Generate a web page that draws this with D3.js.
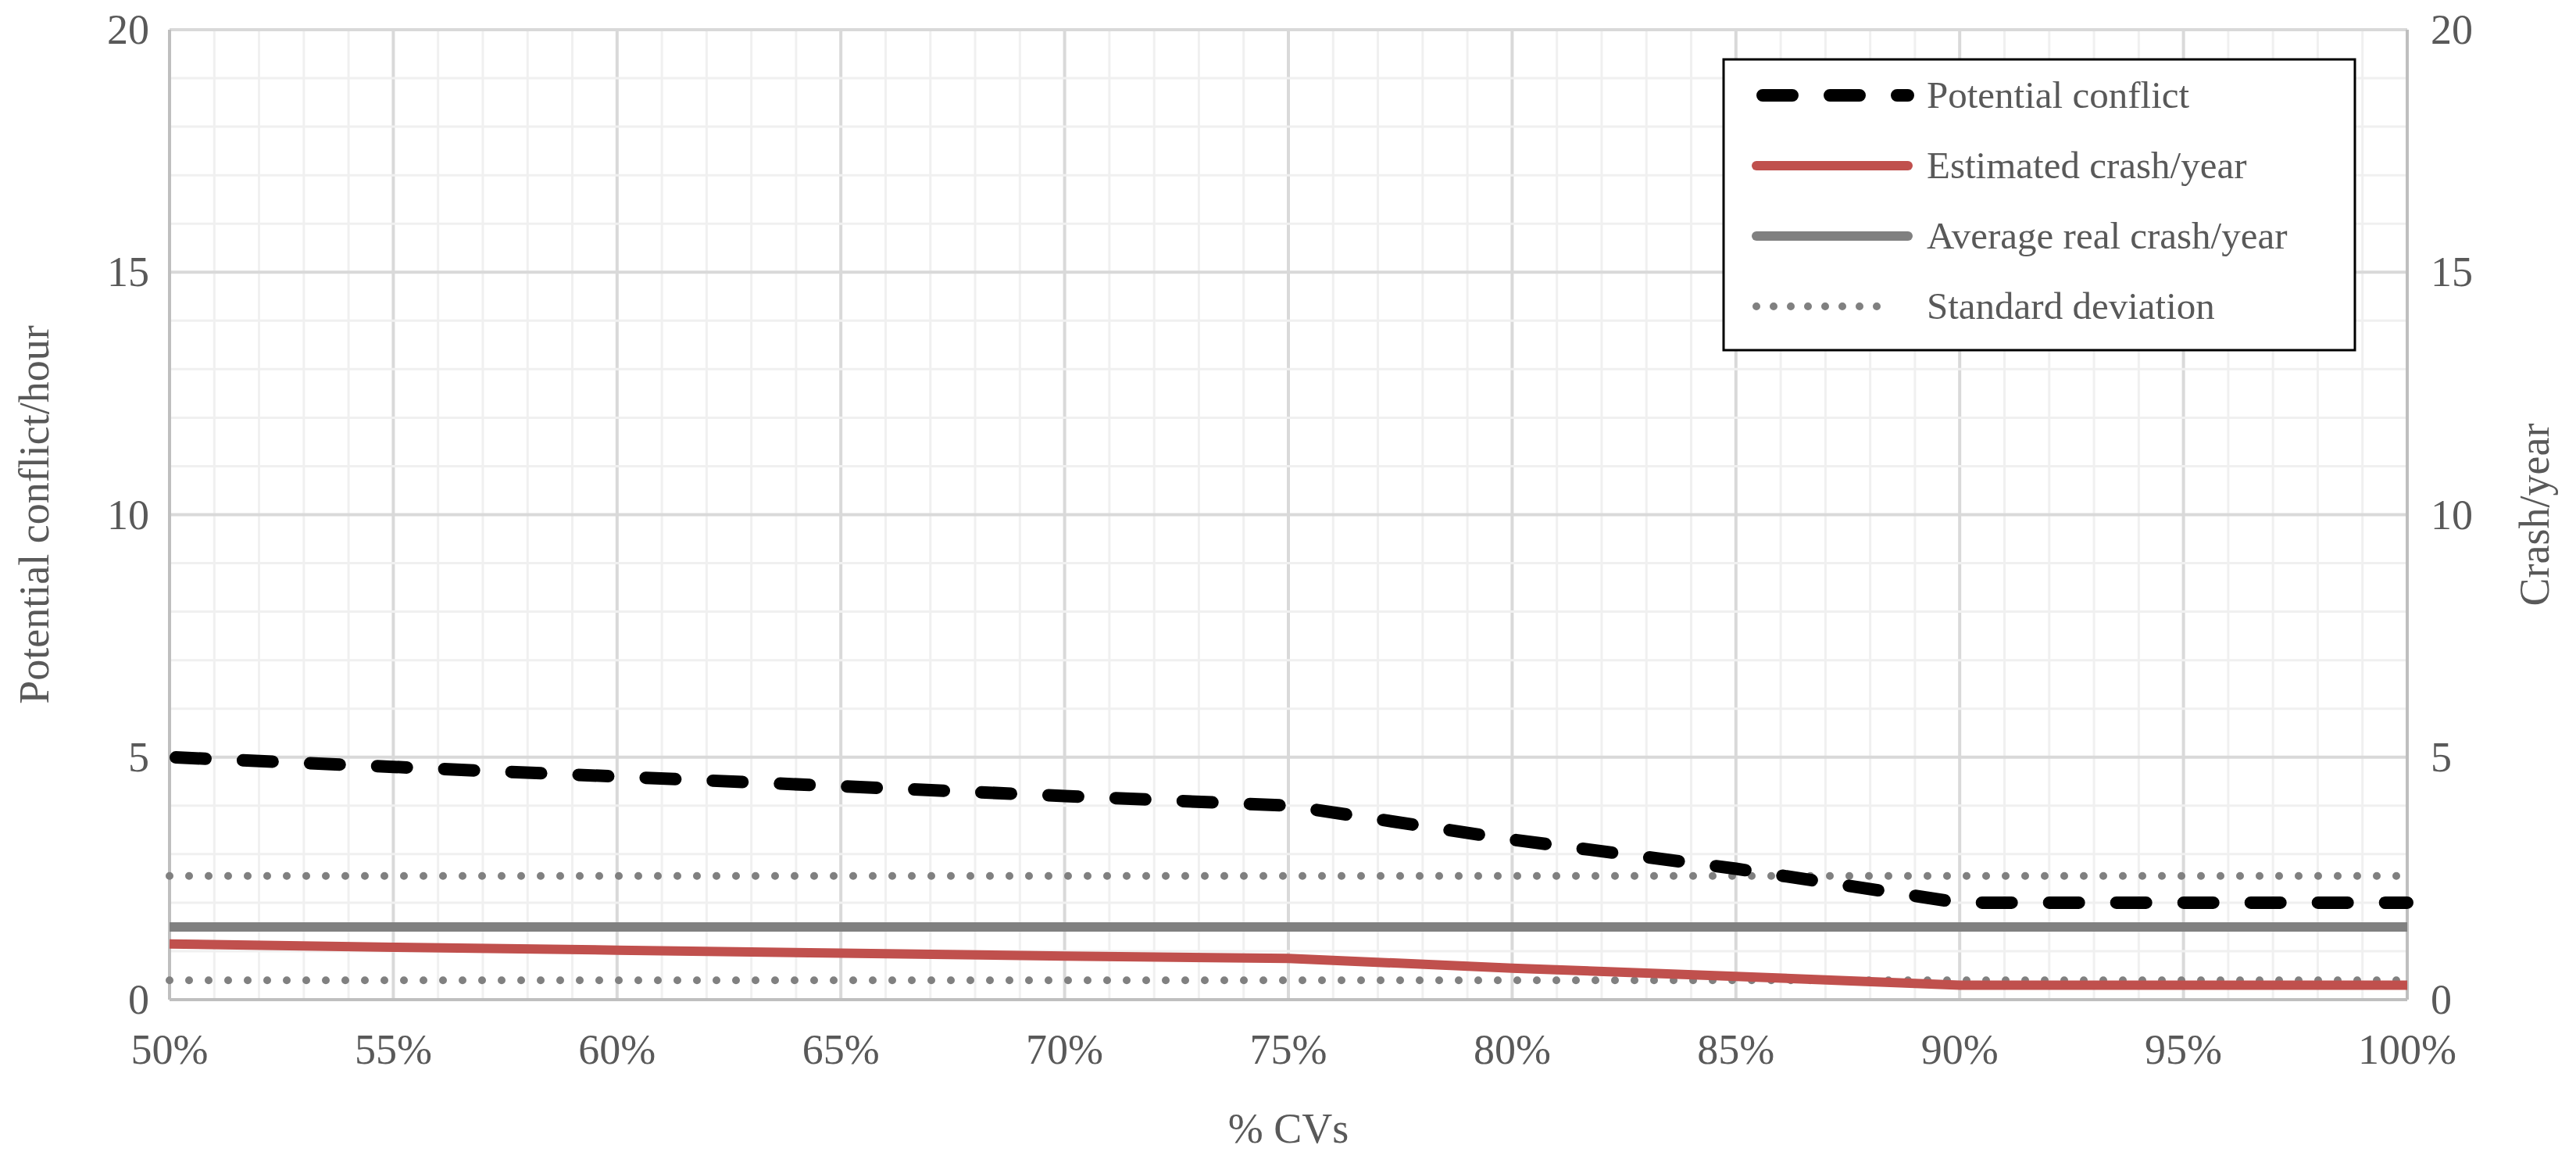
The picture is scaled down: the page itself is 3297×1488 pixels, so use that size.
<!DOCTYPE html>
<html><head><meta charset="utf-8">
<script src="https://cdn.jsdelivr.net/npm/d3@7"></script>
<style>body{margin:0;background:#fff}svg{display:block}</style>
</head><body><svg id="c" width="3297" height="1488"></svg>
<script>
const xs = [50,55,60,65,70,75,80,85,90,95,100];
const conflict = [5.0,4.8,4.6,4.4,4.2,4.0,3.3,2.7,2.0,2.0,2.0];
const estCrash = [1.15,1.08,1.02,0.96,0.9,0.85,0.65,0.48,0.3,0.3,0.3];
const avgReal = 1.5;
const stdHigh = 2.55, stdLow = 0.4;
const yTicks = [0,5,10,15,20];
const legendLabels = ["Potential conflict","Estimated crash/year","Average real crash/year","Standard deviation"];

const svg = d3.select("#c");
const L=217,R=3081,T=38,B=1279;
const x = d3.scaleLinear().domain([50,100]).range([L,R]);
const y = d3.scaleLinear().domain([0,20]).range([B,T]);
const y2 = d3.scaleLinear().domain([0,20]).range([B,T]);
const font = "'Liberation Serif','Times New Roman',serif", tc="#595959";

const g = svg.append("g");
g.selectAll(".vm").data(d3.range(50,101,1)).join("line").attr("x1",d=>x(d)).attr("x2",d=>x(d)).attr("y1",T).attr("y2",B).attr("stroke",d=>d%5===0?"#d9d9d9":"#f0f0f0").attr("stroke-width",d=>d%5===0?4:3);
g.selectAll(".hm").data(d3.range(0,21,1)).join("line").attr("x1",L).attr("x2",R).attr("y1",d=>y(d)).attr("y2",d=>y(d)).attr("stroke",d=>d%5===0?"#d9d9d9":"#f0f0f0").attr("stroke-width",d=>d%5===0?4:3);
g.append("line").attr("x1",L).attr("x2",L).attr("y1",T).attr("y2",B).attr("stroke","#bfbfbf").attr("stroke-width",4);
g.append("line").attr("x1",R).attr("x2",R).attr("y1",T).attr("y2",B).attr("stroke","#bfbfbf").attr("stroke-width",4);
g.append("line").attr("x1",L).attr("x2",R).attr("y1",B).attr("y2",B).attr("stroke","#bfbfbf").attr("stroke-width",4);

const ax = svg.append("g").attr("font-family",font).attr("fill",tc).attr("font-size",54);
ax.selectAll(".xl").data(xs).join("text").attr("x",d=>x(d)).attr("y",B+82).attr("text-anchor","middle").text(d=>d+"%");
ax.selectAll(".yl").data(yTicks).join("text").attr("x",L-26).attr("y",d=>y(d)+18).attr("text-anchor","end").text(d=>d);
ax.selectAll(".y2l").data(yTicks).join("text").attr("x",R+30).attr("y",d=>y2(d)+18).attr("text-anchor","start").text(d=>d);
ax.append("text").attr("x",(L+R)/2).attr("y",1462).attr("text-anchor","middle").text("% CVs");
ax.append("text").attr("transform",`translate(62,${(T+B)/2}) rotate(-90)`).attr("text-anchor","middle").text("Potential conflict/hour");
ax.append("text").attr("transform",`translate(3262,${(T+B)/2}) rotate(-90)`).attr("text-anchor","middle").text("Crash/year");

const line = d3.line().x((d,i)=>x(xs[i]));
const hl = (v,sty)=>svg.append("line").attr("x1",L).attr("x2",R).attr("y1",y2(v)).attr("y2",y2(v)).call(sty);
const dotSty = s=>s.attr("stroke","#808080").attr("stroke-width",10).attr("stroke-dasharray","0 25").attr("stroke-linecap","round");
hl(stdHigh,dotSty); hl(stdLow,dotSty);
hl(avgReal,s=>s.attr("stroke","#808080").attr("stroke-width",12));
svg.append("path").attr("d",line.y(d=>y2(d))(estCrash)).attr("fill","none").attr("stroke","#c0504d").attr("stroke-width",12);
svg.append("path").attr("d",line.y(d=>y(d))(conflict)).attr("fill","none").attr("stroke","#000").attr("stroke-width",16).attr("stroke-dasharray","38 48").attr("stroke-linecap","round").attr("stroke-dashoffset",-8);

const lg = svg.append("g");
lg.append("rect").attr("x",2206).attr("y",76).attr("width",808).attr("height",372).attr("fill","#fff").attr("stroke","#000").attr("stroke-width",3);
const ly = [122,212,302,392];
const sx1=2248, sx2=2442;
lg.append("line").attr("x1",sx1).attr("x2",sx2).attr("y1",ly[0]).attr("y2",ly[0]).attr("stroke","#000").attr("stroke-width",16).attr("stroke-dasharray","38 48").attr("stroke-linecap","round").attr("stroke-dashoffset",-8);
lg.append("line").attr("x1",sx1).attr("x2",sx2).attr("y1",ly[1]).attr("y2",ly[1]).attr("stroke","#c0504d").attr("stroke-width",12).attr("stroke-linecap","round");
lg.append("line").attr("x1",sx1).attr("x2",sx2).attr("y1",ly[2]).attr("y2",ly[2]).attr("stroke","#808080").attr("stroke-width",12).attr("stroke-linecap","round");
lg.append("line").attr("x1",sx1).attr("x2",sx1+175).attr("y1",ly[3]).attr("y2",ly[3]).call(dotSty).attr("stroke-dasharray","0 22");
lg.selectAll("text").data(legendLabels).join("text").attr("x",2466).attr("y",(d,i)=>ly[i]+16).attr("font-family",font).attr("font-size",49).attr("fill",tc).text(d=>d);
</script></body></html>
